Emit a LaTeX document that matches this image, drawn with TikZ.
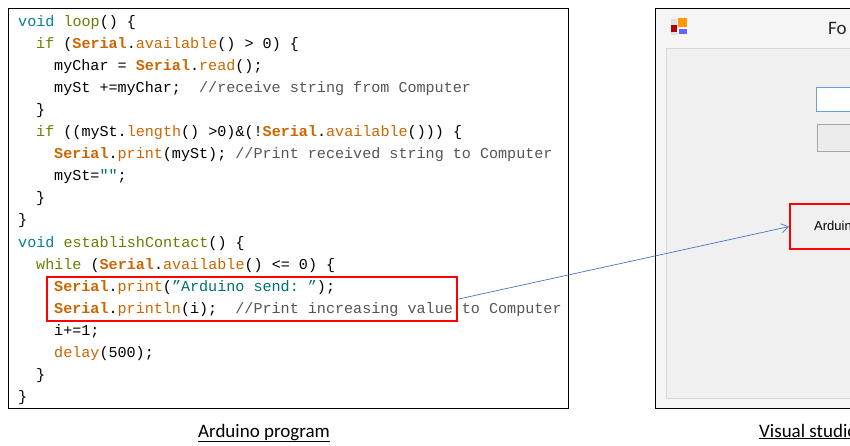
\documentclass[tikz,border=0pt]{standalone}
\usepackage{fontspec}
\setmainfont{Liberation Sans}
\setmonofont{Liberation Mono}
\setsansfont{Carlito}
\usetikzlibrary{arrows.meta}
\definecolor{kw}{RGB}{0,128,153}
\definecolor{ctl}{RGB}{102,128,0}
\definecolor{fn}{RGB}{204,102,0}
\definecolor{cm}{RGB}{85,85,85}
\definecolor{str}{RGB}{0,110,120}
\definecolor{arr}{RGB}{70,120,190}
\newcommand{\cK}[1]{\textcolor{kw}{#1}}
\newcommand{\cC}[1]{\textcolor{ctl}{#1}}
\newcommand{\cF}[1]{\textcolor{fn}{#1}}
\newcommand{\cS}{\textcolor{fn}{\textbf{Serial}}}
\newcommand{\cM}[1]{\textcolor{cm}{#1}}
\begin{document}
\begin{tikzpicture}[x=1pt,y=-1pt,
  code/.style={anchor=base west,inner sep=0pt,font=\ttfamily\fontsize{15.1}{17}\selectfont},
  redbox/.style={draw=red,line width=2.2pt},
  captext/.style={font=\sffamily\fontsize{19}{22}\selectfont,inner sep=0pt,anchor=base}]
\useasboundingbox (0,0) rectangle (850,446);
\fill[white] (0,0) rectangle (850,446);
\node[draw,line width=0.8pt,minimum width=560pt,minimum height=400pt,anchor=north west,inner sep=0pt] (prog) at (8,8) {};
\node[code] (l1) at (18,27) {\cK{void} \cC{loop}() \{};
\node[code] (l2) at (36,49) {\cC{if} (\cS.\cF{available}() > 0) \{};
\node[code] (l3) at (54,71) {myChar = \cS.\cF{read}();};
\node[code] (l4) at (54,93) {mySt +=myChar;~~\cM{//receive string from Computer}};
\node[code] (l5) at (36,115) {\}};
\node[code] (l6) at (36,137) {\cC{if} ((mySt.\cF{length}() >0)\&(!\cS.\cF{available}())) \{};
\node[code] (l7) at (54,159) {\cS.\cF{print}(mySt); \cM{//Print received string to Computer}};
\node[code] (l8) at (54,181) {mySt=\textcolor{str}{""};};
\node[code] (l9) at (36,203) {\}};
\node[code] (l10) at (18,225) {\}};
\node[code] (l11) at (18,247) {\cK{void} \cC{establishContact}() \{};
\node[code] (l12) at (36,269) {\cC{while} (\cS.\cF{available}() <= 0) \{};
\node[code] (l13) at (54,291) {\cS.\cF{print}(\textcolor{str}{”Arduino send: ”});};
\node[code] (l14) at (54,313) {\cS.\cF{println}(i);~~\cM{//Print increasing value to Computer}};
\node[code] (l15) at (54,335) {i+=1;};
\node[code] (l16) at (54,357) {\cF{delay}(500);};
\node[code] (l17) at (36,379) {\}};
\node[code] (l18) at (18,401) {\}};
\node[redbox,minimum width=410pt,minimum height=44pt,anchor=north west,inner sep=0pt] (src) at (46,276) {};
% window
\begin{scope}
\clip (600,0) rectangle (850,446);
\node[draw,line width=0.8pt,fill={rgb,255:red,245;green,245;blue,245},minimum width=260pt,minimum height=400pt,anchor=north west,inner sep=0pt] (win) at (655,8) {};
\node[draw={rgb,255:red,215;green,215;blue,215},fill={rgb,255:red,240;green,240;blue,240},minimum width=200pt,minimum height=350pt,anchor=north west,inner sep=0pt] (panel) at (666,48) {};
\fill[gray!25] (671,19) rectangle (677,35);
\fill[red!70!black] (671,25) rectangle (677,32);
\fill[orange!80!yellow] (678,18) rectangle (687,27);
\fill[blue!60] (679,29) rectangle (687,34);
\node[font=\sffamily\fontsize{19}{22}\selectfont,anchor=base west,inner sep=0pt,text=black!85] (title) at (828,35) {Fo};
\node[draw={rgb,255:red,100;green,160;blue,230},fill=white,minimum width=60pt,minimum height=24pt,anchor=north west,inner sep=0pt] (tb) at (816,87) {};
\node[draw=gray!70,fill=gray!15,minimum width=60pt,minimum height=27pt,anchor=north west,inner sep=0pt] (btn) at (817,124) {};
\node[redbox,fill={rgb,255:red,240;green,240;blue,240},minimum width=100pt,minimum height=45pt,anchor=north west,inner sep=0pt] (dst) at (789,203) {};
\node[font=\fontsize{13}{15}\selectfont,anchor=base west,inner sep=0pt] (lab) at (814,230) {Arduino send:};
\node[captext,anchor=base west] (vs) at (759,437) {\underline{Visual studio}};
\end{scope}
\node[captext] (ap) at (264,437) {\underline{Arduino program}};
\draw[arr,line width=0.7pt,-{Straight Barb[length=7pt,width=9pt]}] (src.east) -- (dst.west);
\end{tikzpicture}
\end{document}
